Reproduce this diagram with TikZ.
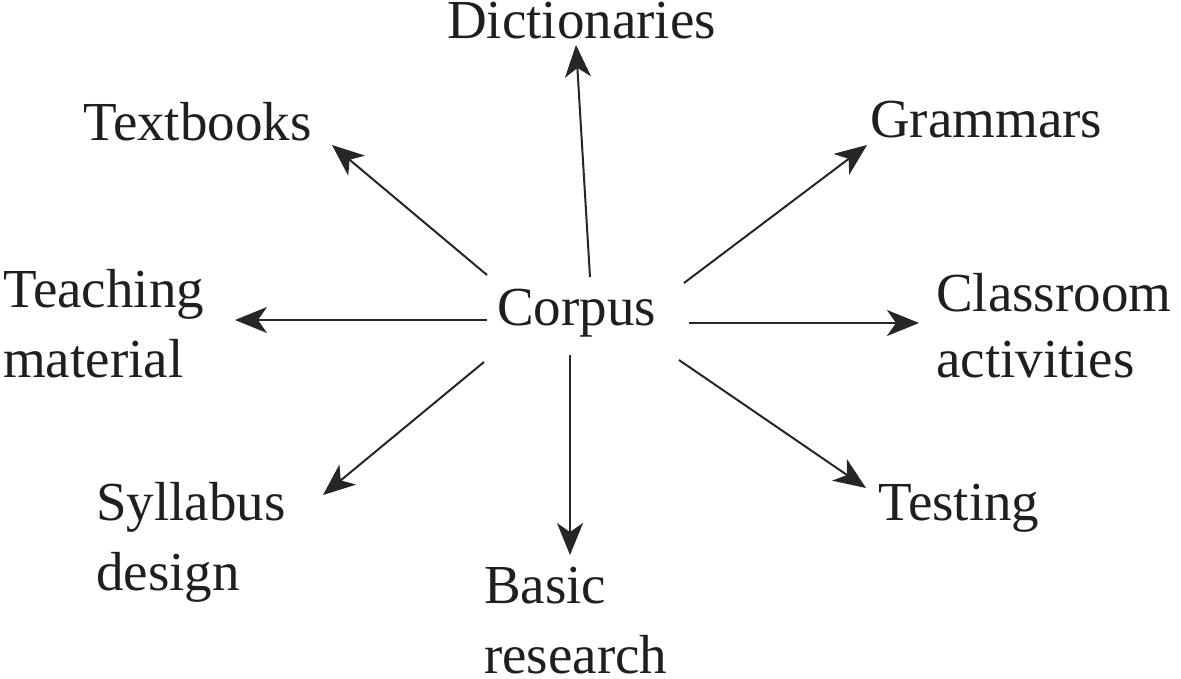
\documentclass[tikz,border=0pt]{standalone}
\usepackage{fontspec}
\setmainfont{Liberation Serif}
\usetikzlibrary{arrows.meta}
\tikzset{
  lbl/.style={inner sep=0pt, anchor=base west, align=left, text=black!88, font=\fontsize{55}{70}\selectfont},
  conn/.style={line width=2pt, draw=black!85, -{Stealth[length=32pt,width=26pt,inset=9pt]}}
}
\begin{document}
\begin{tikzpicture}[x=1pt,y=-1pt]
\useasboundingbox[fill=white] (0,0) rectangle (1181,678);
% labels
\node[lbl] (corpus) at (497,325) {Corpus};
\node[lbl] (dict) at (447,38) {Dictionaries};
\node[lbl] (text) at (83,140) {Textbooks};
\node[lbl] (teach) at (3,377) {Teaching\\material};
\node[lbl] (gram) at (870,137) {Grammars};
\node[lbl, font=\fontsize{55}{66}\selectfont] (class) at (936,377) {Classroom\\activities};
\node[lbl] (syll) at (96,590) {Syllabus\\design};
\node[lbl] (test) at (878,520) {Testing};
\node[lbl] (basic) at (484,673) {Basic\\research};
% connector ends
\coordinate (sDict) at (590,277);  \coordinate (tDict) at (576,45);
\coordinate (sText) at (487,275);  \coordinate (tText) at (332,145);
\coordinate (sTeach) at (487,320); \coordinate (tTeach) at (235,320);
\coordinate (sGram) at (684,283);  \coordinate (tGram) at (867,145);
\coordinate (sClass) at (689,323); \coordinate (tClass) at (919,323);
\coordinate (sSyll) at (484,362);  \coordinate (tSyll) at (323,495);
\coordinate (sBasic) at (570,355); \coordinate (tBasic) at (570,555);
\coordinate (sTest) at (679,360);  \coordinate (tTest) at (866,488);
% connectors
\draw[conn] (sDict) -- (tDict);
\draw[conn] (sText) -- (tText);
\draw[conn] (sTeach) -- (tTeach);
\draw[conn] (sGram) -- (tGram);
\draw[conn] (sClass) -- (tClass);
\draw[conn] (sSyll) -- (tSyll);
\draw[conn] (sBasic) -- (tBasic);
\draw[conn] (sTest) -- (tTest);
\end{tikzpicture}
\end{document}
